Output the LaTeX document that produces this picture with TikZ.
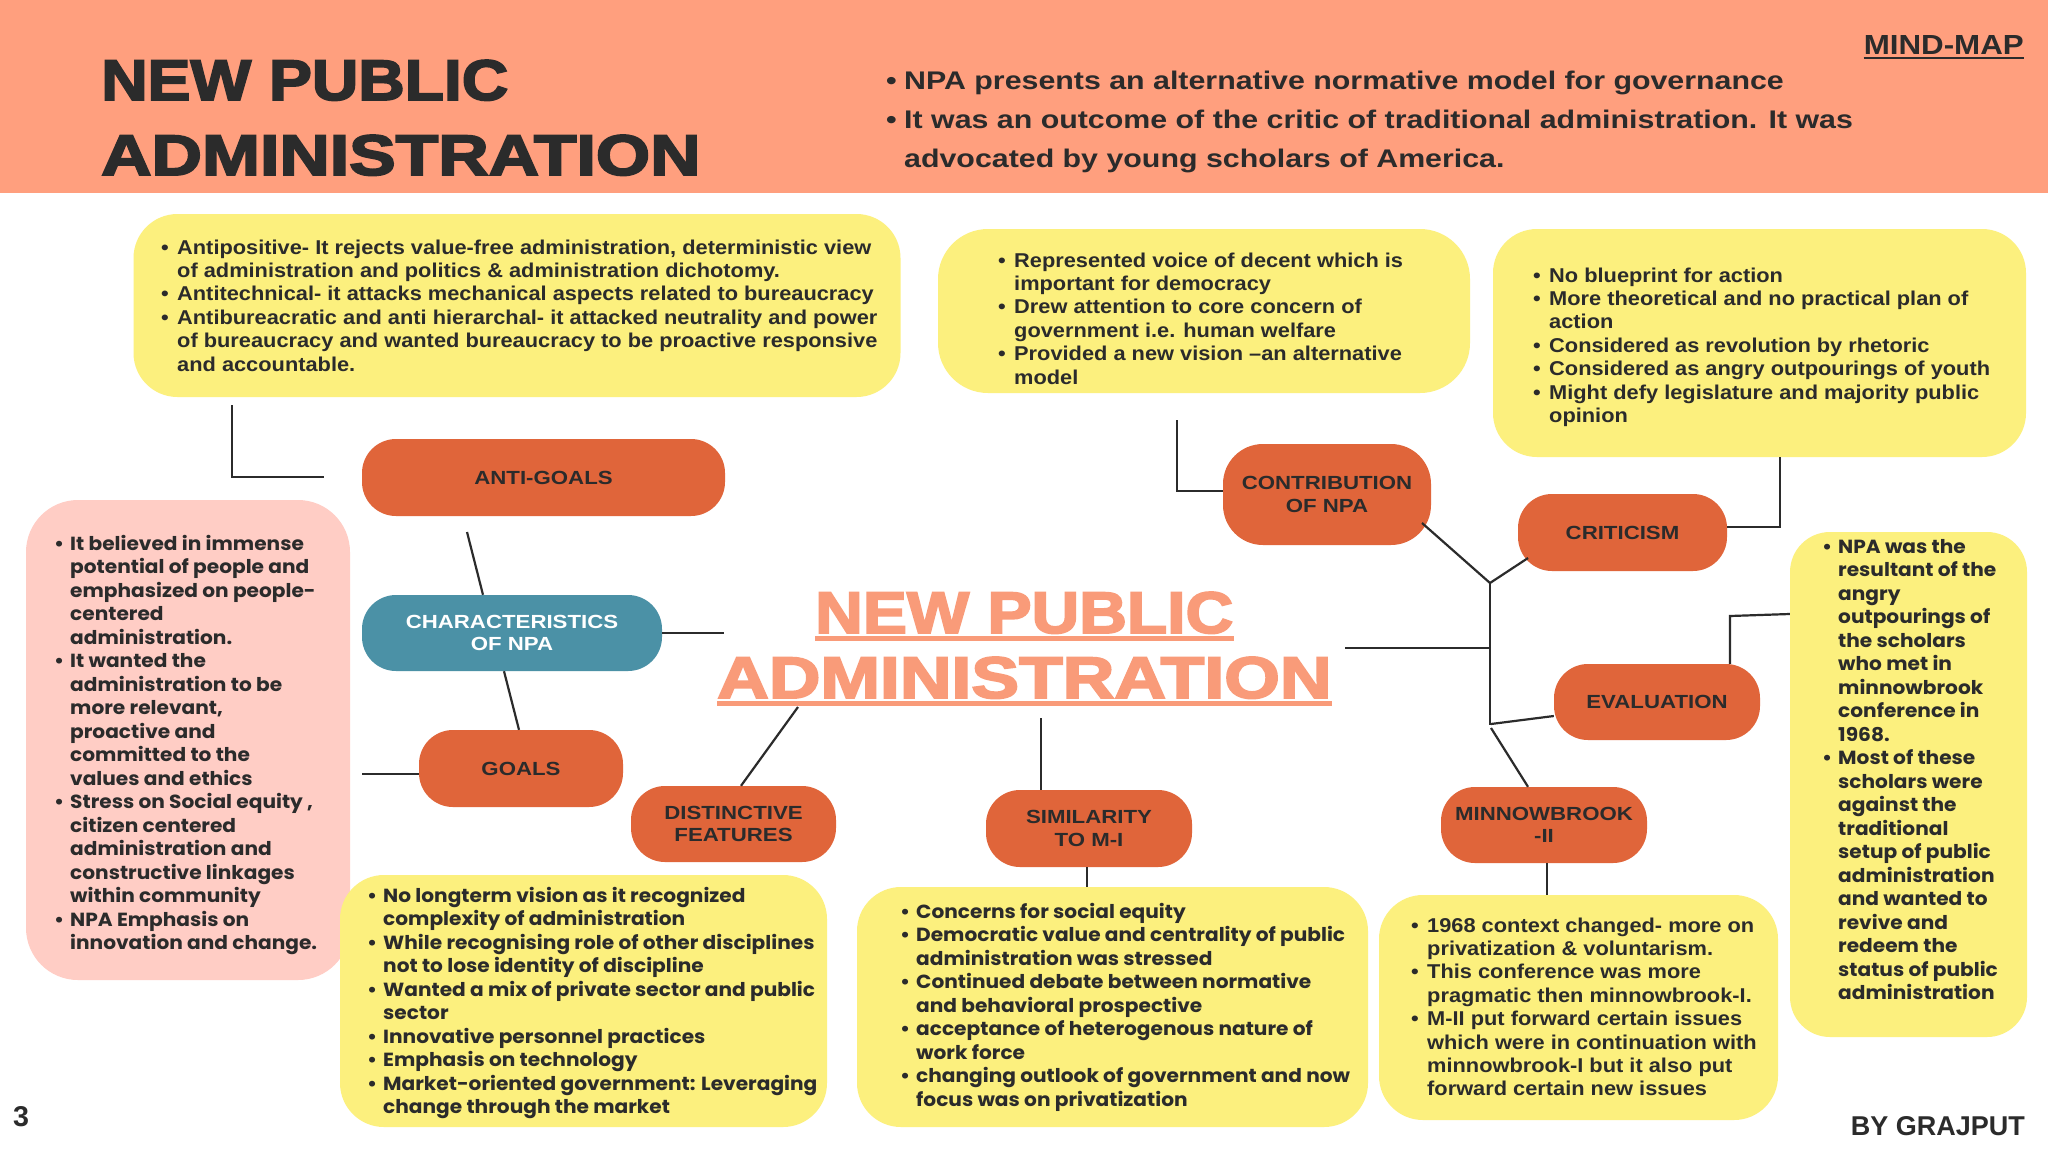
\documentclass[tikz,border=0pt]{standalone}
\usepackage{fontspec}
\usepackage{graphicx}
\setmainfont{Liberation Sans}
\newfontfamily\widef{Poppins}[FakeStretch=1.06]
\newfontfamily\narrf{Liberation Sans}[FakeStretch=1.09]
\newfontfamily\headf{Liberation Sans}[FakeStretch=1.19]
\newfontfamily\heavyf{Liberation Sans}[FakeBold=3]
\newfontfamily\lblf{Liberation Sans}[FakeStretch=1.17]
\definecolor{bandc}{HTML}{FF9F7E}
\definecolor{orangec}{HTML}{E0653A}
\definecolor{tealc}{HTML}{4B91A6}
\definecolor{yboxc}{HTML}{FCF07E}
\definecolor{pinkc}{HTML}{FFCDC5}
\definecolor{ink}{HTML}{2B2B2B}
\definecolor{salmonc}{HTML}{F99B79}
\newcommand{\bb}{\makebox[16pt][l]{\textbullet}}
\newcommand{\hb}{\makebox[18pt][l]{\textbullet}}
\begin{document}
\begin{tikzpicture}[x=1pt,y=-1pt,
  ybox/.style={fill=yboxc, draw=none, inner sep=0, rounded corners=44pt},
  pbox/.style={fill=pinkc, draw=none, inner sep=0, rounded corners=52pt},
  obox/.style={fill=orangec, draw=none, inner sep=0, rounded corners=34pt, text=ink, align=center,
     font=\lblf\bfseries\fontsize{19}{22.5}\selectfont},
  tbox/.style={obox, fill=tealc, text=white},
  nlist/.style={anchor=base west, inner sep=0, text=ink, font=\narrf\bfseries\fontsize{20}{23.4}\selectfont},
  wlist/.style={anchor=base west, inner sep=0, text=ink, font=\widef\bfseries\fontsize{19}{23.5}\selectfont},
  conn/.style={draw=ink, line width=2.2pt}]
\useasboundingbox (0,0) rectangle (2048,1152);
\fill[white] (0,0) rectangle (2048,1152);
\fill[bandc] (0,0) rectangle (2048,193);

% header
\node[anchor=base west, inner sep=0, text=ink] (ht1) at (101,100) {\resizebox{407pt}{40pt}{\heavyf\bfseries NEW PUBLIC}};
\node[anchor=base west, inner sep=0, text=ink] (ht2) at (101,175) {\resizebox{599pt}{40pt}{\heavyf\bfseries ADMINISTRATION}};
\node[anchor=base west, inner sep=0, text=ink, font=\headf\bfseries\fontsize{25.5}{39}\selectfont] (hl) at (886,89) {%
\begin{tabular}[t]{@{}l@{}l@{}}
\hb & NPA presents an alternative normative model for governance\\
\hb & It was an outcome of the critic of traditional administration. It was\\
 & advocated by young scholars of America.
\end{tabular}};
\node[anchor=base east, inner sep=0, text=ink] (mm) at (2024,54) {\resizebox{160pt}{19pt}{\bfseries MIND-MAP}};
\draw[ink, line width=2.5pt] ([yshift=-4pt]mm.base west) -- ([yshift=-4pt]mm.base east);

% yellow / pink boxes
\node[ybox, minimum width=767pt, minimum height=183pt] (b1) at (517,305.5) {};
\node[ybox, minimum width=532pt, minimum height=164pt, rounded corners=50pt] (b2) at (1204,311) {};
\node[ybox, minimum width=533pt, minimum height=228pt] (b3) at (1759.5,343) {};
\node[pbox, minimum width=324pt, minimum height=480pt] (pk) at (188,740) {};
\node[ybox, minimum width=237pt, minimum height=505pt, rounded corners=40pt] (ev) at (1908.5,784.5) {};
\node[ybox, minimum width=487pt, minimum height=252pt] (db) at (583.5,1001) {};
\node[ybox, minimum width=511pt, minimum height=240pt] (sb) at (1112.5,1007) {};
\node[ybox, minimum width=399pt, minimum height=225pt] (mb) at (1578.5,1007.5) {};

% lists
\node[nlist] (l1) at (161,254) {%
\begin{tabular}[t]{@{}l@{}l@{}}
\bb & Antipositive- It rejects value-free administration, deterministic view\\
 & of administration and politics \& administration dichotomy.\\
\bb & Antitechnical- it attacks mechanical aspects related to bureaucracy\\
\bb & Antibureacratic and anti hierarchal- it attacked neutrality and power\\
 & of bureaucracy and wanted bureaucracy to be proactive responsive\\
 & and accountable.
\end{tabular}};
\node[nlist] (l2) at (998,267) {%
\begin{tabular}[t]{@{}l@{}l@{}}
\bb & Represented voice of decent which is\\
 & important for democracy\\
\bb & Drew attention to core concern of\\
 & government i.e. human welfare\\
\bb & Provided a new vision –an alternative\\
 & model
\end{tabular}};
\node[nlist] (l3) at (1533,282) {%
\begin{tabular}[t]{@{}l@{}l@{}}
\bb & No blueprint for action\\
\bb & More theoretical and no practical plan of\\
 & action\\
\bb & Considered as revolution by rhetoric\\
\bb & Considered as angry outpourings of youth\\
\bb & Might defy legislature and majority public\\
 & opinion
\end{tabular}};
\node[wlist] (l4) at (54,550) {%
\begin{tabular}[t]{@{}l@{}l@{}}
\bb & It believed in immense\\
 & potential of people and\\
 & emphasized on people-\\
 & centered\\
 & administration.\\
\bb & It wanted the\\
 & administration to be\\
 & more relevant,\\
 & proactive and\\
 & committed to the\\
 & values and ethics\\
\bb & Stress on Social equity ,\\
 & citizen centered\\
 & administration and\\
 & constructive linkages\\
 & within community\\
\bb & NPA Emphasis on\\
 & innovation and change.
\end{tabular}};
\node[wlist] (l5) at (1822,553) {%
\begin{tabular}[t]{@{}l@{}l@{}}
\bb & NPA was the\\
 & resultant of the\\
 & angry\\
 & outpourings of\\
 & the scholars\\
 & who met in\\
 & minnowbrook\\
 & conference in\\
 & 1968.\\
\bb & Most of these\\
 & scholars were\\
 & against the\\
 & traditional\\
 & setup of public\\
 & administration\\
 & and wanted to\\
 & revive and\\
 & redeem the\\
 & status of public\\
 & administration
\end{tabular}};
\node[wlist] (l6) at (367,902) {%
\begin{tabular}[t]{@{}l@{}l@{}}
\bb & No longterm vision as it recognized\\
 & complexity of administration\\
\bb & While recognising role of other disciplines\\
 & not to lose identity of discipline\\
\bb & Wanted a mix of private sector and public\\
 & sector\\
\bb & Innovative personnel practices\\
\bb & Emphasis on technology\\
\bb & Market-oriented government: Leveraging\\
 & change through the market
\end{tabular}};
\node[wlist] (l7) at (900,918) {%
\begin{tabular}[t]{@{}l@{}l@{}}
\bb & Concerns for social equity\\
\bb & Democratic value and centrality of public\\
 & administration was stressed\\
\bb & Continued debate between normative\\
 & and behavioral prospective\\
\bb & acceptance of heterogenous nature of\\
 & work force\\
\bb & changing outlook of government and now\\
 & focus was on privatization
\end{tabular}};
\node[nlist] (l8) at (1411,932) {%
\begin{tabular}[t]{@{}l@{}l@{}}
\bb & 1968 context changed- more on\\
 & privatization \& voluntarism.\\
\bb & This conference was more\\
 & pragmatic then minnowbrook-I.\\
\bb & M-II put forward certain issues\\
 & which were in continuation with\\
 & minnowbrook-I but it also put\\
 & forward certain new issues
\end{tabular}};

% central title
\node[anchor=base west, inner sep=0, text=salmonc] (ct1) at (815,633) {\resizebox{418pt}{41pt}{\heavyf\bfseries NEW PUBLIC}};
\node[anchor=base west, inner sep=0, text=salmonc] (ct2) at (717,698) {\resizebox{614pt}{41pt}{\heavyf\bfseries ADMINISTRATION}};
\draw[salmonc, line width=5pt] ([yshift=-5.5pt]ct1.base west) -- ([yshift=-5.5pt]ct1.base east);
\draw[salmonc, line width=5pt] ([yshift=-5.5pt]ct2.base west) -- ([yshift=-5.5pt]ct2.base east);

% topic nodes
\node[obox, minimum width=363pt, minimum height=77pt] (ag) at (543.5,477.5) {ANTI-GOALS};
\node[tbox, minimum width=300pt, minimum height=76pt] (ch) at (512,633) {CHARACTERISTICS\\OF NPA};
\node[obox, minimum width=204pt, minimum height=77pt] (go) at (521,768.5) {GOALS};
\node[obox, minimum width=205pt, minimum height=76pt] (df) at (733.5,824) {DISTINCTIVE\\FEATURES};
\node[obox, minimum width=206pt, minimum height=77pt] (sm) at (1089,828.5) {SIMILARITY\\TO M-I};
\node[obox, minimum width=206pt, minimum height=76pt] (mn) at (1544,825) {MINNOWBROOK\\-II};
\node[obox, minimum width=206pt, minimum height=76pt] (evn) at (1657,702) {EVALUATION};
\node[obox, minimum width=209pt, minimum height=77pt] (cr) at (1622.5,532.5) {CRITICISM};
\node[obox, minimum width=208pt, minimum height=101pt, rounded corners=40pt] (co) at (1327,494.5) {CONTRIBUTION\\OF NPA};

% connector points
\coordinate (p1a) at (232,405);
\coordinate (p1b) at (232,477);
\coordinate (p1c) at (324,477);
\coordinate (p2) at (467,532);
\coordinate (p4) at (724,633);
\coordinate (p5) at (362,774);
\coordinate (p6) at (798,707);
\coordinate (p7) at (1041,718);
\coordinate (p9a) at (1177,420);
\coordinate (p9b) at (1177,491);
\coordinate (tj) at (1345,648);
\coordinate (tt) at (1490,583);
\coordinate (tm) at (1490,648);
\coordinate (tb) at (1490,725);
\coordinate (coe) at (1422,523);
\coordinate (cre) at (1528,558);

\draw[conn] (p1a) -- (p1b) -- (p1c);
\draw[conn] (p2) -- (483,595 |- ch.north);
\draw[conn] (504,671 |- ch.south) -- (519,730 |- go.north);
\draw[conn] (ch.east) -- (p4);
\draw[conn] (p5) -- (go.west |- p5);
\draw[conn] (df.north -| 741,0) -- (p6);
\draw[conn] (p7) -- (p7 |- sm.north);
\draw[conn] (sm.south -| 1087,0) -- (sb.north -| 1087,0);
\draw[conn] (p9a) -- (p9b) -- (co.west |- p9b);
\draw[conn] (tj) -- (tm);
\draw[conn] (tt) -- (tb);
\draw[conn] (tt) -- (coe);
\draw[conn] (tt) -- (cre);
\draw[conn] (1491,724) -- (evn.west |- 0,716);
\draw[conn] (1491,728) -- (mn.north -| 1528,0);
\draw[conn] (cr.east |- 0,527) -- (1780,527) -- (b3.south -| 1780,0);
\draw[conn] (evn.north -| 1730,0) -- (1730,616) -- (ev.west |- 0,614);
\draw[conn] (mn.south -| 1547,0) -- (mb.north -| 1547,0);

% footer
\node[anchor=base east, inner sep=0, text=ink] (by) at (2025,1135) {\resizebox{174pt}{19pt}{\bfseries BY GRAJPUT}};
\node[anchor=base west, inner sep=0, text=ink] (pg) at (13,1126) {\resizebox{!}{20pt}{\bfseries 3}};
\end{tikzpicture}
\end{document}
